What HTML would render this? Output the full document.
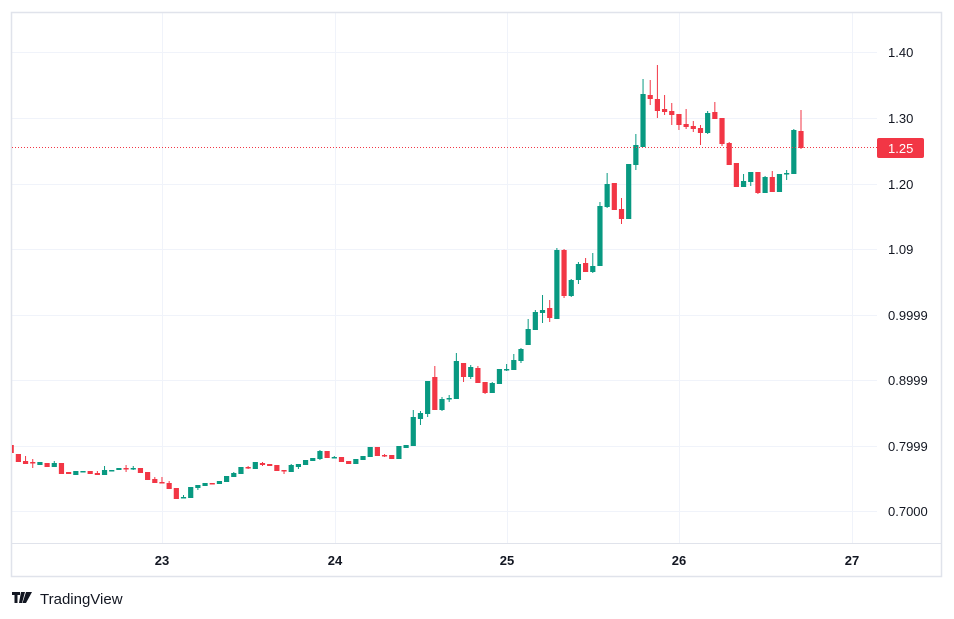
<!DOCTYPE html>
<html><head><meta charset="utf-8"><style>
html,body{margin:0;padding:0;background:#fff;}
svg{display:block;font-family:"Liberation Sans",sans-serif;}
</style></head><body>
<svg id="s" width="954" height="619" viewBox="0 0 954 619" xmlns="http://www.w3.org/2000/svg">
<defs><clipPath id="cp"><rect x="12" y="13" width="865" height="530"/></clipPath></defs>
<rect x="0" y="0" width="954" height="619" fill="#fff"/>
<g stroke="#f0f3fa" stroke-width="1">
<line x1="12" y1="52.5" x2="877" y2="52.5"/><line x1="12" y1="118.5" x2="877" y2="118.5"/>
<line x1="12" y1="184.5" x2="877" y2="184.5"/><line x1="12" y1="249.5" x2="877" y2="249.5"/>
<line x1="12" y1="315.5" x2="877" y2="315.5"/><line x1="12" y1="380.5" x2="877" y2="380.5"/>
<line x1="12" y1="446.5" x2="877" y2="446.5"/><line x1="12" y1="511.5" x2="877" y2="511.5"/>
<line x1="162.5" y1="13" x2="162.5" y2="543"/><line x1="335.5" y1="13" x2="335.5" y2="543"/>
<line x1="507.5" y1="13" x2="507.5" y2="543"/><line x1="679.5" y1="13" x2="679.5" y2="543"/>
<line x1="852.5" y1="13" x2="852.5" y2="543"/>
</g>
<line x1="12" y1="543.5" x2="941" y2="543.5" stroke="#e0e3eb"/>
<rect x="11.5" y="12.5" width="930" height="564" fill="none" stroke="#e0e3eb" stroke-width="1.5"/>
<g id="c" clip-path="url(#cp)"></g>
<line x1="12" y1="147.5" x2="877" y2="147.5" stroke="#f23645" stroke-width="1" stroke-dasharray="1,2"/>
<rect x="877" y="138" width="47" height="20" rx="2" fill="#f23645"/>
<text x="888" y="153" font-size="13" fill="#fff">1.25</text>
<g font-size="13" fill="#131722">
<text x="888" y="57">1.40</text><text x="888" y="123">1.30</text><text x="888" y="189">1.20</text>
<text x="888" y="254">1.09</text><text x="888" y="320">0.9999</text><text x="888" y="385">0.8999</text>
<text x="888" y="451">0.7999</text><text x="888" y="516">0.7000</text>
</g>
<g font-size="13" font-weight="bold" fill="#131722" text-anchor="middle">
<text x="162" y="565">23</text><text x="335" y="565">24</text><text x="507" y="565">25</text>
<text x="679" y="565">26</text><text x="852" y="565">27</text>
</g>
<g fill="#131722">
<path d="M12 592h8v3h-2.5v8h-3v-8H12z M21 592h4l-3 11h-3z M26 592h6l-6 11h-3.5z"/>
<text x="40" y="604" font-size="15">TradingView</text>
</g>
</svg>
<script>
var d=[
[445,453,445,455,0],[454,462,454,462,0],[461,464,456,464,0],[462,463,459,468,0],[462,465,462,465,1],
[463,467,463,467,0],[463,467,461,467,1],[463,474,463,474,0],[472,474,472,474,0],[471,475,471,475,1],
[471,472,471,472,1],[471,474,471,474,0],[473,475,471,475,0],[470,475,466,475,1],[470,471,470,471,1],
[468,470,468,470,1],[468,469,465,472,0],[468,469,466,470,1],[468,473,468,473,0],[472,480,472,480,0],
[479,483,477,483,0],[482,483,477,483,0],[483,489,481,489,0],[488,499,488,499,0],[497,498,495,498,1],
[487,498,487,498,1],[485,488,485,490,1],[483,486,483,486,1],[483,484,483,484,0],[481,484,481,484,1],
[476,482,476,482,1],[473,477,472,477,1],[467,474,467,474,1],[467,468,466,469,0],[462,469,462,469,1],
[463,465,462,466,0],[464,466,464,466,0],[465,471,465,471,0],[470,471,470,474,0],[465,472,464,472,1],
[464,467,464,469,1],[460,465,460,465,1],[458,461,458,461,1],[451,459,450,460,1],[451,458,451,458,0],
[457,458,456,458,1],[457,462,457,462,0],[461,464,461,464,0],[459,464,459,464,1],[456,460,456,460,1],
[447,457,447,457,1],[447,456,447,456,0],[455,456,454,457,0],[455,459,455,459,0],[446,459,446,459,1],
[445,448,445,448,1],[417,446,410,446,1],[413,419,411,425,1],[381,414,381,417,1],[377,410,366,410,0],
[399,410,397,411,1],[398,399,395,402,1],[361,399,353,399,1],[363,377,363,382,0],[367,377,365,379,1],
[368,383,366,383,0],[382,393,382,394,0],[383,393,382,393,1],[369,384,369,384,1],[369,370,364,371,1],
[360,370,354,370,1],[349,361,348,363,1],[329,345,319,345,1],[312,330,310,330,1],[310,313,295,323,1],
[308,318,300,322,0],[250,319,248,319,1],[250,296,249,298,0],[280,296,279,297,1],[264,280,262,284,1],
[263,272,258,272,0],[266,272,253,273,1],[206,266,202,266,1],[184,207,173,208,1],[183,210,183,210,0],
[209,219,198,224,0],[164,219,164,219,1],[145,165,134,170,1],[94,147,79,147,1],[95,99,80,105,0],
[99,111,65,118,0],[109,112,95,115,0],[111,115,103,125,0],[114,125,114,130,0],[124,127,109,129,0],
[126,129,121,132,0],[128,133,125,145,0],[113,133,111,134,1],[112,119,102,119,0],[118,144,118,146,0],
[143,165,142,165,0],[163,187,163,187,0],[181,187,174,187,1],[172,182,172,186,1],[172,193,172,194,0],
[177,193,176,193,1],[177,192,171,192,0],[174,192,174,192,1],[173,174,170,180,1],[130,174,129,174,1],
[131,148,110,149,0]];
var g=document.getElementById('c'),h='';
d.forEach(function(c,i){var x=11.2+7.18*i,col=c[4]?'#089981':'#f23645';
var t=c[0],b=Math.max(c[1],c[0]+1.5);
h+='<line x1="'+x+'" y1="'+c[2]+'" x2="'+x+'" y2="'+c[3]+'" stroke="'+col+'" stroke-width="1"/>';
h+='<rect x="'+(x-2.6)+'" y="'+t+'" width="5.2" height="'+(b-t)+'" fill="'+col+'"/>';});
g.innerHTML=h;
</script>
</body></html>
